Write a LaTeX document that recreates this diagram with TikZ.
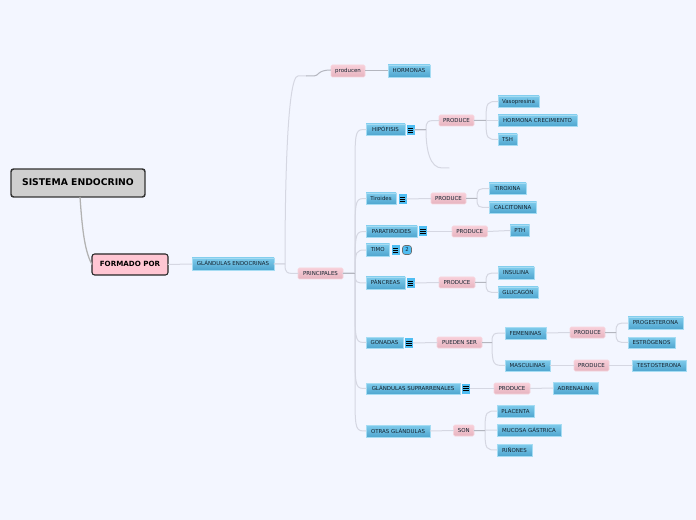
\documentclass[tikz,border=0pt]{standalone}
\usepackage{fontspec}
\setmainfont{DejaVu Sans}
\usetikzlibrary{calc}
\definecolor{bgc}{HTML}{F3F6FF}
\definecolor{lnkc}{HTML}{D5D7E2}
\definecolor{stubc}{HTML}{B4B6BF}
\definecolor{txtc}{HTML}{14222E}
\definecolor{BT}{HTML}{7FCBEC}\definecolor{BB}{HTML}{4FA6CF}\definecolor{BL}{HTML}{A5DCF3}
\definecolor{PT}{HTML}{F8CFD9}\definecolor{PB}{HTML}{E6B3BF}\definecolor{PL}{HTML}{F6D5DD}
\definecolor{IC}{HTML}{4FBDF2}\definecolor{FP}{HTML}{FFC6D3}
\tikzset{
  boxbase/.style={inner sep=0pt,outer sep=0pt,text=txtc,font=\fontsize{4.1}{5}\selectfont,line width=0.4pt,text height=3pt,text depth=0pt},
  bluebox/.style={boxbase,draw=BL,top color=BT,bottom color=BB},
  pinkbox/.style={boxbase,draw=PL,top color=PT,bottom color=PB,rounded corners=1pt},
  iconbox/.style={inner sep=0pt,outer sep=0pt,fill=IC},
  badgebox/.style={inner sep=0pt,outer sep=0pt,fill=IC,draw=gray!85!black,line width=0.45pt,rounded corners=2pt,font=\fontsize{4}{5}\selectfont,text=txtc,text height=3pt,text depth=0pt},
  rootbox/.style={inner sep=0pt,outer sep=0pt,draw=black!80,line width=1.1pt,rounded corners=2pt,fill=black!19,font=\bfseries\fontsize{6.95}{8}\selectfont,text=black,text height=4.4pt,text depth=0pt},
  formbox/.style={inner sep=0pt,outer sep=0pt,draw=black!85,line width=0.8pt,rounded corners=2pt,fill=FP,font=\bfseries\fontsize{5.35}{7}\selectfont,text=black,text height=3.6pt,text depth=0pt},
  link/.style={draw=lnkc,line width=0.75pt,line cap=round},
  stub/.style={draw=stubc,line width=0.75pt},
  bar/.style={draw=black,line width=0.42pt},
}
\newcommand{\bx}[7]{\node[#1,minimum width={(#5-#3)*0.75pt},minimum height={(#6-#4)*0.75pt}] (#2) at ({(#3+#5)/2},{(#4+#6)/2}) {#7};}
\newcommand{\ic}[3]{\node[iconbox,minimum width=6pt,minimum height=7.5pt] (#1) at (#2,#3) {};
  \draw[bar] ($(#1.center)+(-2.6,-2.1)$) -- ($(#1.center)+(2.6,-2.1)$);
  \draw[bar] ($(#1.center)+(-2.6,0)$) -- ($(#1.center)+(2.6,0)$);
  \draw[bar] ($(#1.center)+(-2.6,2.1)$) -- ($(#1.center)+(2.6,2.1)$);}
\newcommand{\strl}[2]{\draw[link] (#1.east) -- (#2.west);}
\newcommand{\br}[3]{\draw[link] let \p1=(#1.east),\p2=(#2.west) in
  \pgfextra{\pgfmathsetlengthmacro{\yy}{\y2-(\y2>\y1?1:-1)*min(24,abs(\y2-\y1))*1pt}}
  (\p1) -- (#3*0.75pt,\y1) -- (#3*0.75pt,\yy)
  .. controls (#3*0.75pt,\y2) and (#3*0.75pt+1pt,\y2) .. (\p2);}
\newcommand{\st}[2]{\draw[stub] let \p1=(#1.east) in (\p1) -- (#2*0.75pt,\y1);}
\begin{document}
\begin{tikzpicture}[x=0.75pt,y=-0.75pt]
\useasboundingbox (0,0) rectangle (696,520);
\fill[bgc] (0,0) rectangle (696,520);
\bx{rootbox}{root}{11}{169}{145}{197}{SISTEMA ENDOCRINO}
\bx{formbox}{form}{92}{254}{168}{275}{FORMADO POR}
\bx{bluebox}{gl}{192}{258}{274}{270}{GLÁNDULAS ENDOCRINAS}
\bx{pinkbox}{prin}{298}{268}{343}{279}{PRINCIPALES}
\bx{pinkbox}{prod}{331}{65}{365}{77}{producen}
\bx{bluebox}{horm}{388}{65}{430}{77}{HORMONAS}
\bx{bluebox}{hip}{366}{124}{405}{135}{HIPÓFISIS}
\ic{ihip}{410.5}{130}
\bx{pinkbox}{p1}{439}{115}{474}{126}{PRODUCE}
\coordinate (endh) at (449,168);
\bx{bluebox}{vaso}{498}{96}{539}{107}{Vasopresina}
\bx{bluebox}{hcre}{498}{115}{577}{126}{HORMONA CRECIMIENTO}
\bx{bluebox}{tsh}{498}{134}{517}{145}{TSH}
\bx{bluebox}{tir}{366}{193}{396}{204}{Tiroides}
\ic{itir}{402.5}{199}
\bx{pinkbox}{p2}{431}{193}{466}{204}{PRODUCE}
\bx{bluebox}{tiro}{489}{183}{526}{194}{TIROXINA}
\bx{bluebox}{calc}{489}{202}{536.5}{213}{CALCITONINA}
\bx{bluebox}{para}{366}{226}{417}{237}{PARATIROIDES}
\ic{ipar}{423}{231.5}
\bx{pinkbox}{p3}{452}{226}{487.5}{237}{PRODUCE}
\bx{bluebox}{pth}{510}{225}{529.5}{236}{PTH}
\bx{bluebox}{timo}{366}{244}{389.5}{256}{TIMO}
\ic{itim}{395.5}{250}
\bx{badgebox}{bad}{402.5}{245.5}{411.5}{254.5}{2}
\bx{bluebox}{panc}{366}{277}{405}{289}{PÁNCREAS}
\ic{ipan}{410.5}{283}
\bx{pinkbox}{p4}{439}{277}{475}{288}{PRODUCE}
\bx{bluebox}{insu}{498}{267}{534}{279}{INSULINA}
\bx{bluebox}{gluc}{498}{287}{538}{298}{GLUCAGÓN}
\bx{bluebox}{gona}{366}{337}{403}{348}{GONADAS}
\ic{igon}{409}{343}
\bx{pinkbox}{pue}{437}{337}{482}{348}{PUEDEN SER}
\bx{bluebox}{feme}{505}{327}{546}{339}{FEMENINAS}
\bx{pinkbox}{p5}{570}{327}{605}{338}{PRODUCE}
\bx{bluebox}{prog}{628}{317}{683}{329}{PROGESTERONA}
\bx{bluebox}{estr}{628}{337}{675}{348}{ESTRÓGENOS}
\bx{bluebox}{masc}{505}{360}{550}{371}{MASCULINAS}
\bx{pinkbox}{p6}{574}{360}{609}{371}{PRODUCE}
\bx{bluebox}{test}{632}{360}{686}{371}{TESTOSTERONA}
\bx{bluebox}{supr}{366}{383}{460}{394}{GLÁNDULAS SUPRARRENALES}
\ic{isup}{466}{388.5}
\bx{pinkbox}{p7}{494}{383}{530}{394}{PRODUCE}
\bx{bluebox}{adre}{553}{382}{598}{394}{ADRENALINA}
\bx{bluebox}{otra}{366}{425}{430}{437}{OTRAS GLÁNDULAS}
\bx{pinkbox}{son}{453.5}{425}{474}{436}{SON}
\bx{bluebox}{plac}{497}{405}{534}{417}{PLACENTA}
\bx{bluebox}{muco}{497}{424}{561}{436}{MUCOSA GÁSTRICA}
\bx{bluebox}{rino}{497}{444}{532}{456}{RIÑONES}
\draw[draw=black!30,line width=0.95pt] ($(root.south)+(2,0)$) .. controls (82,225) and (84,250) .. (form.west);
\strl{form}{gl}
\draw[link] (gl.east) -- (285,264) .. controls (285,190) and (287,76) .. (298,76) -- (306,76);
\draw[stub] (306,76) -- (314,76) .. controls (319,76) and (317,70) .. (331,70);
\draw[stub] (prod.east) -- (horm.west);
\br{gl}{prin}{285}
\br{prin}{hip}{355}
\br{prin}{tir}{355}
\br{prin}{para}{355}
\br{prin}{timo}{355}
\br{prin}{panc}{355}
\br{prin}{gona}{355}
\br{prin}{supr}{355}
\br{prin}{otra}{355}
\st{prin}{355}
\br{ihip}{p1}{426}
\draw[link] (ihip.east) -- (426,130) .. controls (426,150) and (430,168) .. (442,168) -- (endh);
\st{ihip}{426}
\br{p1}{vaso}{486}\br{p1}{hcre}{486}\br{p1}{tsh}{486}\st{p1}{486}
\strl{itir}{p2}
\br{p2}{tiro}{477}\br{p2}{calc}{477}\st{p2}{477}
\strl{ipar}{p3}\strl{p3}{pth}
\strl{ipan}{p4}
\br{p4}{insu}{486}\br{p4}{gluc}{486}\st{p4}{486}
\strl{igon}{pue}
\br{pue}{feme}{492}\br{pue}{masc}{492}\st{pue}{492}
\strl{feme}{p5}\strl{masc}{p6}\strl{p6}{test}
\br{p5}{prog}{616}\br{p5}{estr}{616}\st{p5}{616}
\strl{isup}{p7}\strl{p7}{adre}
\strl{otra}{son}
\br{son}{plac}{485}\br{son}{muco}{485}\br{son}{rino}{485}\st{son}{485}
\end{tikzpicture}
\end{document}
